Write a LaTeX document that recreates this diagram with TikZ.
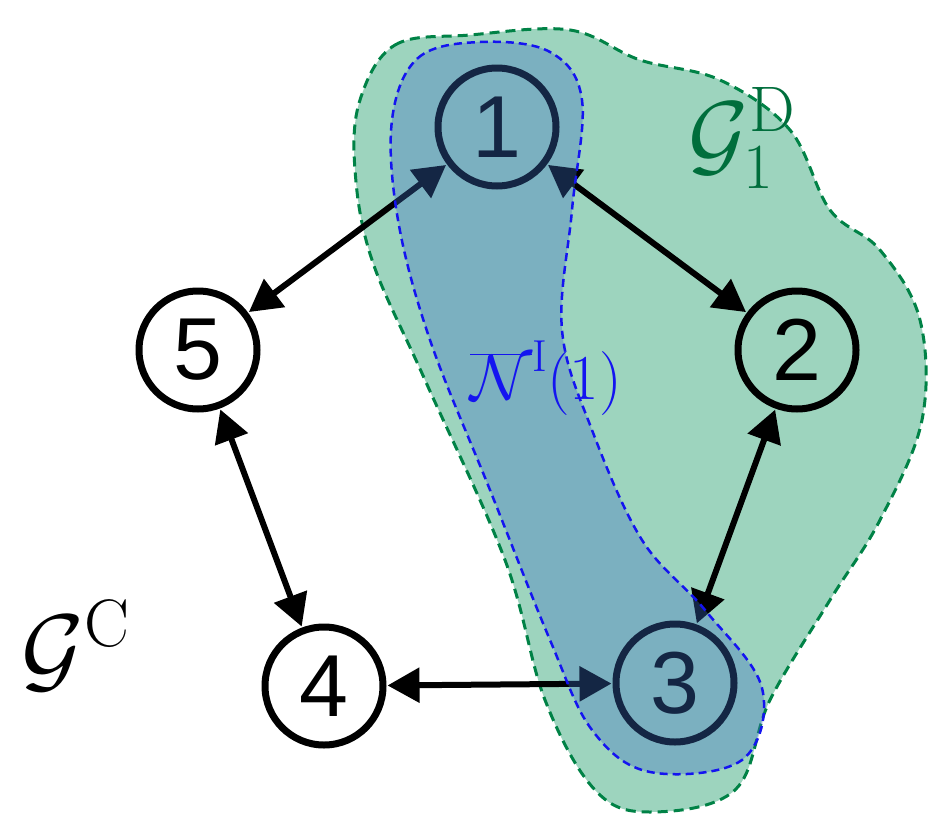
\RequirePackage{fix-cm}
\documentclass[tikz,border=0pt]{standalone}
\usepackage{fontspec}
\newfontfamily\numfont{Liberation Sans}
\usetikzlibrary{arrows.meta}
\begin{document}
\begin{tikzpicture}[x=1pt,y=-1pt,
  nd/.style={circle,draw=black,line width=7pt,minimum size=118pt,inner sep=0pt,font=\numfont\fontsize{88}{100}\selectfont},
  ed/.style={line width=6pt,{Triangle[length=32pt,width=34pt]}-{Triangle[length=32pt,width=34pt]},shorten <=1pt,shorten >=1pt}]
\useasboundingbox (0,0) rectangle (935,838);
\def\greenpath{plot[smooth cycle,tension=0.6] coordinates {(360,100)(395,45)(470,35)(570,30)(640,60)(720,80)(790,130)(830,210)(880,250)(920,320)(922,420)(880,520)(830,600)(770,700)(735,790)(650,812)(595,790)(545,700)(505,560)(425,380)(372,260)(355,170)}}
\def\bluepath{plot[smooth cycle,tension=0.6] coordinates {(392,120)(418,58)(480,42)(550,52)(582,100)(572,210)(562,330)(592,430)(642,540)(705,610)(762,688)(742,760)(650,772)(592,730)(550,640)(490,490)(430,340)(398,220)}}
\fill[fill={rgb,255:red,60;green,170;blue,125},fill opacity=0.5] \greenpath;
\draw[line width=3pt,draw={rgb,255:red,0;green,130;blue,70},dash pattern=on 10pt off 6pt] \greenpath;
\node[nd] (n1) at (497,127) {1};
\node[nd] (n2) at (797,350) {2};
\node[nd] (n5) at (198,350) {5};
\node[nd] (n4) at (324,686) {4};
\node[nd] (n3) at (675,683) {3};
\draw[ed] (n1) -- (n5);
\draw[ed] (n1) -- (n2);
\draw[ed] (n2) -- (n3);
\draw[ed] (n5) -- (n4);
\draw[ed] (n4) -- (n3);
\fill[fill={rgb,255:red,60;green,110;blue,195},fill opacity=0.35] \bluepath;
\draw[line width=2.5pt,draw={rgb,255:red,20;green,20;blue,240},dash pattern=on 8pt off 5pt] \bluepath;
\node[text={rgb,255:red,0;green,110;blue,60},font=\fontsize{92}{100}\selectfont] (gd) at (742,138) {$\mathcal{G}_1^{\mathrm{D}}$};
\node[font=\fontsize{96}{100}\selectfont] (gc) at (76,645) {$\mathcal{G}^{\mathrm{C}}$};
\node[text={rgb,255:red,20;green,20;blue,240},font=\fontsize{64}{70}\selectfont] (nb) at (546,378) {$\overline{\mathcal{N}}^{\mathrm{I}}(1)$};
\end{tikzpicture}
\end{document}
